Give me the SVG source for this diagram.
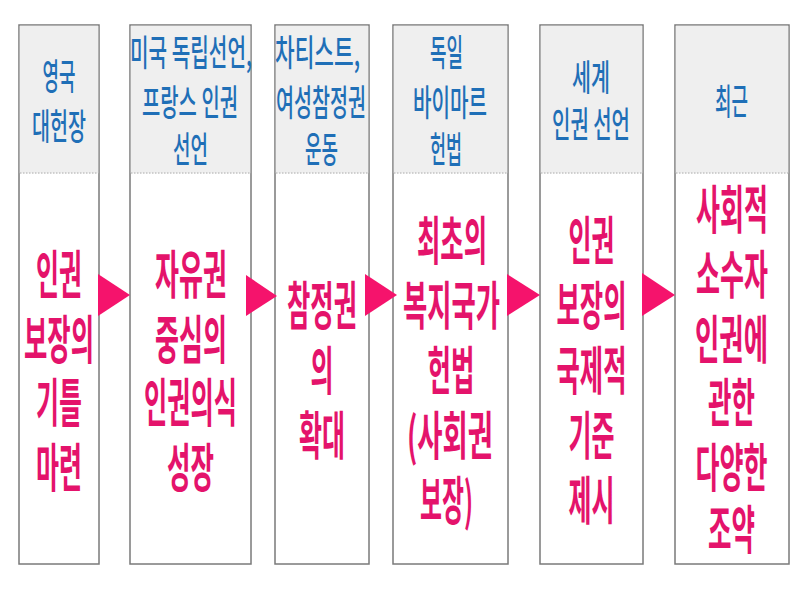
<svg xmlns="http://www.w3.org/2000/svg" width="800" height="592" viewBox="0 0 800 592">
<style>
.box{fill:#fff;stroke:#7a7a7a;stroke-width:1.5}
.hd{fill:#efefef}
.dot{stroke:#c4c4c4;stroke-width:1.5;stroke-dasharray:1.5 1.5}
.h{font-family:"Noto Sans CJK KR","Noto Sans",sans-serif;font-size:36px;font-weight:500;fill:#1f6fb7;text-anchor:middle}
.b{font-family:"Noto Sans CJK KR","Noto Sans",sans-serif;font-size:52px;font-weight:700;fill:#e4136b;text-anchor:middle}
.arr{fill:#f5136c}
</style>
<rect width="800" height="592" fill="#fff"/>
<g id="node1">
<rect class="box" x="19" y="25" width="80" height="539"/>
<rect class="hd" x="19.75" y="25.75" width="78.5" height="147.5"/>
<line class="dot" x1="20" y1="173" x2="98" y2="173"/>
<text class="h" transform="matrix(0.5,0,0,1,59,90)" textLength="66" lengthAdjust="spacingAndGlyphs">영국</text>
<text class="h" transform="matrix(0.5,0,0,1,59,140)" textLength="108" lengthAdjust="spacingAndGlyphs">대헌장</text>
<text class="b" transform="matrix(0.5,0,0,1,59,294)" textLength="92" lengthAdjust="spacingAndGlyphs">인권</text>
<text class="b" transform="matrix(0.5,0,0,1,59,359)" textLength="140" lengthAdjust="spacingAndGlyphs">보장의</text>
<text class="b" transform="matrix(0.5,0,0,1,59,422)" textLength="92" lengthAdjust="spacingAndGlyphs">기틀</text>
<text class="b" transform="matrix(0.5,0,0,1,59,487)" textLength="92" lengthAdjust="spacingAndGlyphs">마련</text>
</g>
<g id="node2">
<rect class="box" x="130" y="25" width="121" height="539"/>
<rect class="hd" x="130.75" y="25.75" width="119.5" height="147.5"/>
<line class="dot" x1="131" y1="173" x2="250" y2="173"/>
<text class="h" transform="matrix(0.5,0,0,1,191,66)" textLength="244" lengthAdjust="spacingAndGlyphs">미국 독립선언,</text>
<text class="h" transform="matrix(0.5,0,0,1,190,116)" textLength="192" lengthAdjust="spacingAndGlyphs">프랑스 인권</text>
<text class="h" transform="matrix(0.5,0,0,1,190.5,163)" textLength="70" lengthAdjust="spacingAndGlyphs">선언</text>
<text class="b" transform="matrix(0.5,0,0,1,191,294)" textLength="144" lengthAdjust="spacingAndGlyphs">자유권</text>
<text class="b" transform="matrix(0.5,0,0,1,191,359)" textLength="144" lengthAdjust="spacingAndGlyphs">중심의</text>
<text class="b" transform="matrix(0.5,0,0,1,190.5,422)" textLength="186" lengthAdjust="spacingAndGlyphs">인권의식</text>
<text class="b" transform="matrix(0.5,0,0,1,190.5,487)" textLength="94" lengthAdjust="spacingAndGlyphs">성장</text>
</g>
<g id="node3">
<rect class="box" x="275" y="25" width="94" height="539"/>
<rect class="hd" x="275.75" y="25.75" width="92.5" height="147.5"/>
<line class="dot" x1="276" y1="173" x2="368" y2="173"/>
<text class="h" transform="matrix(0.5,0,0,1,317.5,66)" textLength="170" lengthAdjust="spacingAndGlyphs">차티스트,</text>
<text class="h" transform="matrix(0.5,0,0,1,321,116)" textLength="180" lengthAdjust="spacingAndGlyphs">여성참정권</text>
<text class="h" transform="matrix(0.5,0,0,1,321.5,163)" textLength="66" lengthAdjust="spacingAndGlyphs">운동</text>
<text class="b" transform="matrix(0.5,0,0,1,322,325)" textLength="140" lengthAdjust="spacingAndGlyphs">참정권</text>
<text class="b" transform="matrix(0.5,0,0,1,322,390)" textLength="46" lengthAdjust="spacingAndGlyphs">의</text>
<text class="b" transform="matrix(0.5,0,0,1,322,455)" textLength="92" lengthAdjust="spacingAndGlyphs">확대</text>
</g>
<g id="node4">
<rect class="box" x="393" y="25" width="115" height="539"/>
<rect class="hd" x="393.75" y="25.75" width="113.5" height="147.5"/>
<line class="dot" x1="394" y1="173" x2="507" y2="173"/>
<text class="h" transform="matrix(0.5,0,0,1,446.5,66)" textLength="66" lengthAdjust="spacingAndGlyphs">독일</text>
<text class="h" transform="matrix(0.5,0,0,1,450,116)" textLength="148" lengthAdjust="spacingAndGlyphs">바이마르</text>
<text class="h" transform="matrix(0.5,0,0,1,446,163)" textLength="64" lengthAdjust="spacingAndGlyphs">헌법</text>
<text class="b" transform="matrix(0.5,0,0,1,452,260)" textLength="140" lengthAdjust="spacingAndGlyphs">최초의</text>
<text class="b" transform="matrix(0.5,0,0,1,451.5,325)" textLength="194" lengthAdjust="spacingAndGlyphs">복지국가</text>
<text class="b" transform="matrix(0.5,0,0,1,451,390)" textLength="94" lengthAdjust="spacingAndGlyphs">헌법</text>
<text class="b" transform="matrix(0.5,0,0,1,450,455)" textLength="172" lengthAdjust="spacingAndGlyphs">(사회권</text>
<text class="b" transform="matrix(0.5,0,0,1,446.5,520)" textLength="106" lengthAdjust="spacingAndGlyphs">보장)</text>
</g>
<g id="node5">
<rect class="box" x="540" y="25" width="103" height="539"/>
<rect class="hd" x="540.75" y="25.75" width="101.5" height="147.5"/>
<line class="dot" x1="541" y1="173" x2="642" y2="173"/>
<text class="h" transform="matrix(0.5,0,0,1,591,91)" textLength="76" lengthAdjust="spacingAndGlyphs">세계</text>
<text class="h" transform="matrix(0.5,0,0,1,591,138)" textLength="156" lengthAdjust="spacingAndGlyphs">인권 선언</text>
<text class="b" transform="matrix(0.5,0,0,1,591.5,260)" textLength="92" lengthAdjust="spacingAndGlyphs">인권</text>
<text class="b" transform="matrix(0.5,0,0,1,591.5,325)" textLength="140" lengthAdjust="spacingAndGlyphs">보장의</text>
<text class="b" transform="matrix(0.5,0,0,1,591.5,390)" textLength="140" lengthAdjust="spacingAndGlyphs">국제적</text>
<text class="b" transform="matrix(0.5,0,0,1,591.5,455)" textLength="92" lengthAdjust="spacingAndGlyphs">기준</text>
<text class="b" transform="matrix(0.5,0,0,1,591.5,520)" textLength="92" lengthAdjust="spacingAndGlyphs">제시</text>
</g>
<g id="node6">
<rect class="box" x="675" y="25" width="114" height="539"/>
<rect class="hd" x="675.75" y="25.75" width="112.5" height="147.5"/>
<line class="dot" x1="676" y1="173" x2="788" y2="173"/>
<text class="h" transform="matrix(0.5,0,0,1,731.5,115)" textLength="66" lengthAdjust="spacingAndGlyphs">최근</text>
<text class="b" transform="matrix(0.5,0,0,1,732,229)" textLength="144" lengthAdjust="spacingAndGlyphs">사회적</text>
<text class="b" transform="matrix(0.5,0,0,1,732,294)" textLength="144" lengthAdjust="spacingAndGlyphs">소수자</text>
<text class="b" transform="matrix(0.5,0,0,1,731.5,359)" textLength="146" lengthAdjust="spacingAndGlyphs">인권에</text>
<text class="b" transform="matrix(0.5,0,0,1,731.5,422)" textLength="94" lengthAdjust="spacingAndGlyphs">관한</text>
<text class="b" transform="matrix(0.5,0,0,1,731.5,487)" textLength="144" lengthAdjust="spacingAndGlyphs">다양한</text>
<text class="b" transform="matrix(0.5,0,0,1,731.5,549)" textLength="94" lengthAdjust="spacingAndGlyphs">조약</text>
</g>
<g id="connectors">
<polygon class="arr" points="98,274 130,295 98,316"/>
<polygon class="arr" points="246,275 277,296 246,316"/>
<polygon class="arr" points="365,274 397,295 365,316"/>
<polygon class="arr" points="507,274 540,295 507,316"/>
<polygon class="arr" points="642,273 675,295 642,316"/>
</g>
</svg>
